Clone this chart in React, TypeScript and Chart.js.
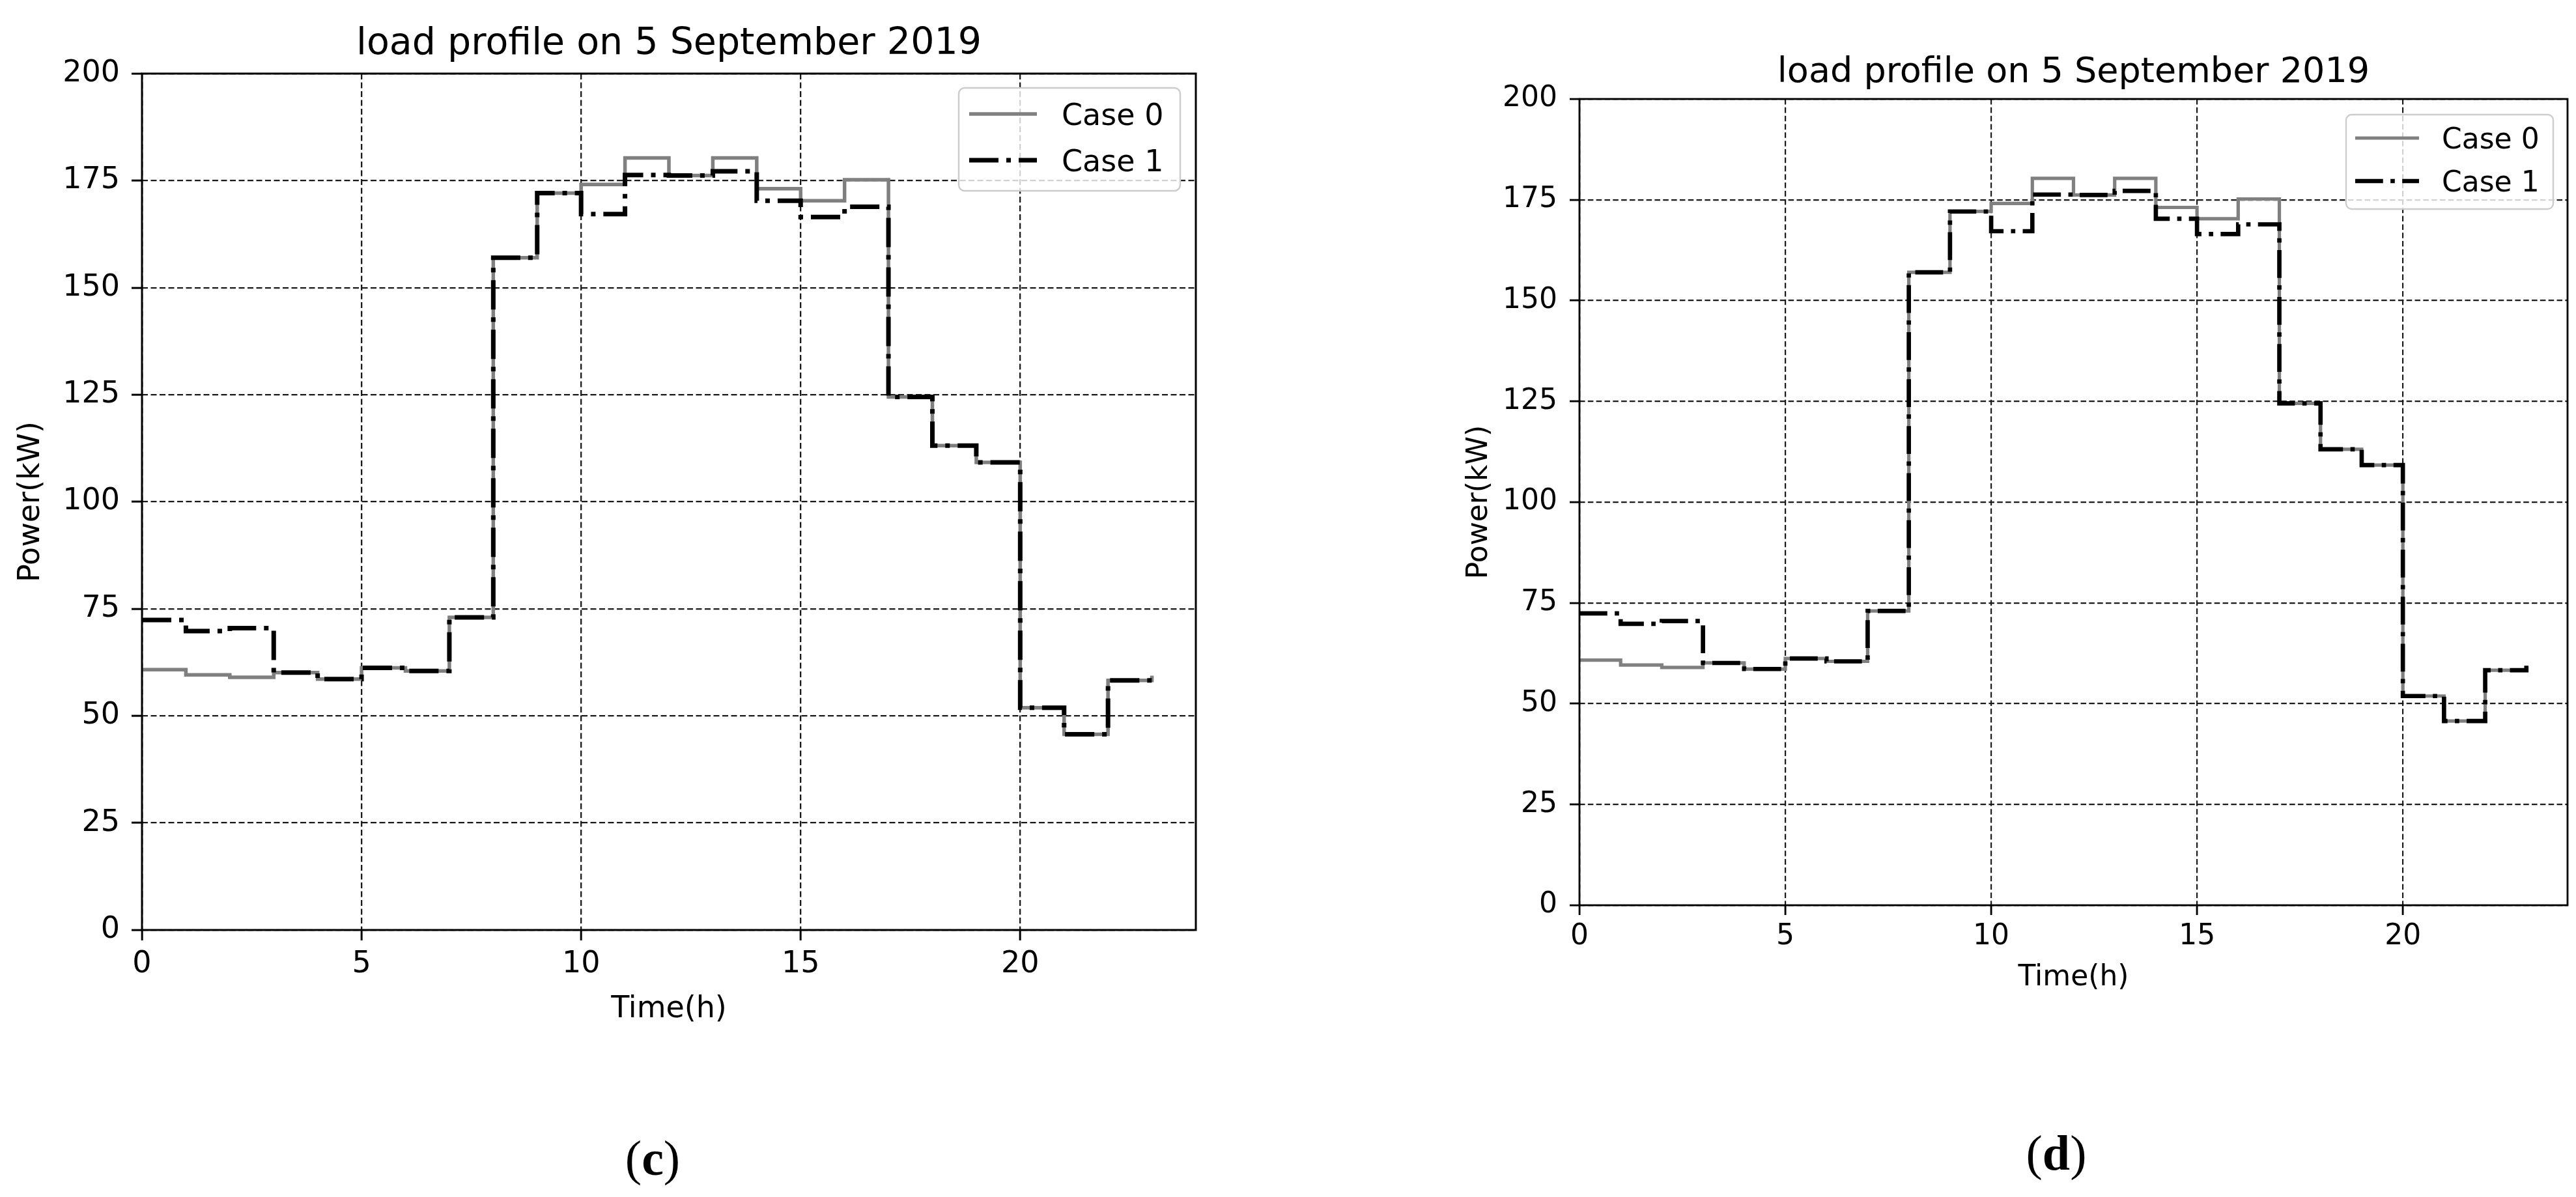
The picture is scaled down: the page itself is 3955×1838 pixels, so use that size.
import React, { useEffect, useRef } from "react";
import { Chart, registerables } from "chart.js";

Chart.register(...registerables);

// ---------------- data ----------------
const hours = [0, 1, 2, 3, 4, 5, 6, 7, 8, 9, 10, 11, 12, 13, 14, 15, 16, 17, 18, 19, 20, 21, 22, 23];
const case0 = [60.8, 59.6, 59.0, 60.1, 58.6, 61.2, 60.5, 73.0, 157.0, 172.1, 174.1, 180.3, 176.2, 180.3, 173.1, 170.3, 175.2, 124.5, 113.1, 109.2, 51.9, 45.7, 58.3, 59.4];
const case1 = [72.4, 69.8, 70.5, 60.1, 58.6, 61.2, 60.5, 73.0, 157.0, 172.1, 167.2, 176.3, 176.2, 177.2, 170.3, 166.5, 168.9, 124.5, 113.1, 109.2, 51.9, 45.7, 58.3, 59.4];
const xTickValues = [0, 5, 10, 15, 20];
const yTickValues = [0, 25, 50, 75, 100, 125, 150, 175, 200];
const seriesLabels = ["Case 0", "Case 1"];
const chartTitle = "load profile on 5 September 2019";
const xAxisTitle = "Time(h)";
const yAxisTitle = "Power(kW)";
const captionLetters = ["c", "d"];

const FONT = '"DejaVu Sans", "Liberation Sans", sans-serif';

type Geo = {
  pageLeft: number;
  pageTop: number;
  W: number;
  H: number;
  plotLeft: number;
  plotRight: number;
  plotTop: number;
  plotBottom: number;
  titleBaseline: number;
  titleSize: number;
  fontSize: number;
  tickLen: number;
  yTickPad: number;
  xTickPad: number;
  yTitleX: number;
  xTitleY: number;
  k: number;
  legend: {
    rightInset: number;
    topInset: number;
    w: number;
    h: number;
    sampleX: number;
    sampleLen: number;
    rowY: number[];
    textX: number;
  };
  caption: { cx: number; cy: number };
};

const geos: Geo[] = [
  {
    pageLeft: 0,
    pageTop: 0,
    W: 1900,
    H: 1600,
    plotLeft: 218,
    plotRight: 1836,
    plotTop: 113,
    plotBottom: 1428,
    titleBaseline: 83,
    titleSize: 57,
    fontSize: 46,
    tickLen: 16,
    yTickPad: 18,
    xTickPad: 9,
    yTitleX: 48,
    xTitleY: 1550,
    k: 1,
    legend: { rightInset: 24, topInset: 22, w: 340, h: 158, sampleX: 16, sampleLen: 104, rowY: [40, 111], textX: 158 },
    caption: { cx: 1002, cy: 1778 },
  },
  {
    pageLeft: 1960,
    pageTop: 0,
    W: 1995,
    H: 1560,
    plotLeft: 465,
    plotRight: 1982,
    plotTop: 152,
    plotBottom: 1390,
    titleBaseline: 126,
    titleSize: 54,
    fontSize: 44,
    tickLen: 15,
    yTickPad: 19,
    xTickPad: 7,
    yTitleX: 312,
    xTitleY: 1502,
    k: 0.95,
    legend: { rightInset: 22, topInset: 24, w: 318, h: 145, sampleX: 14, sampleLen: 98, rowY: [36, 102], textX: 147 },
    caption: { cx: 3157, cy: 1770 },
  },
];

function seriesStyles(k: number) {
  return [
    { color: "#808080", width: 5.5 * k, dash: [] as number[] },
    { color: "#000000", width: 7 * k, dash: [45 * k, 12 * k, 7 * k, 12 * k] },
  ];
}

function makeDecor(g: Geo) {
  const styles = seriesStyles(g.k);
  return {
    id: "decor",
    afterDatasetsDraw(chart: any) {
      const { ctx, chartArea: a } = chart;
      ctx.save();
      // frame
      ctx.setLineDash([]);
      ctx.strokeStyle = "#000";
      ctx.lineWidth = 3 * g.k;
      ctx.strokeRect(a.left, a.top, a.right - a.left, a.bottom - a.top);

      // legend
      const L = g.legend;
      const bx = a.right - L.rightInset - L.w;
      const by = a.top + L.topInset;
      const r = 9 * g.k;
      ctx.beginPath();
      ctx.moveTo(bx + r, by);
      ctx.lineTo(bx + L.w - r, by);
      ctx.arcTo(bx + L.w, by, bx + L.w, by + r, r);
      ctx.lineTo(bx + L.w, by + L.h - r);
      ctx.arcTo(bx + L.w, by + L.h, bx + L.w - r, by + L.h, r);
      ctx.lineTo(bx + r, by + L.h);
      ctx.arcTo(bx, by + L.h, bx, by + L.h - r, r);
      ctx.lineTo(bx, by + r);
      ctx.arcTo(bx, by, bx + r, by, r);
      ctx.closePath();
      ctx.fillStyle = "rgba(255,255,255,0.8)";
      ctx.fill();
      ctx.strokeStyle = "#cccccc";
      ctx.lineWidth = 2.5 * g.k;
      ctx.stroke();

      seriesLabels.forEach((label, i) => {
        const s = styles[i];
        const y = by + L.rowY[i];
        ctx.beginPath();
        ctx.setLineDash(s.dash);
        ctx.lineCap = "butt";
        ctx.strokeStyle = s.color;
        ctx.lineWidth = s.width;
        ctx.moveTo(bx + L.sampleX, y);
        ctx.lineTo(bx + L.sampleX + L.sampleLen, y);
        ctx.stroke();
        ctx.setLineDash([]);
        ctx.fillStyle = "#000";
        ctx.font = `${g.fontSize}px ${FONT}`;
        ctx.textAlign = "left";
        ctx.textBaseline = "alphabetic";
        ctx.fillText(label, bx + L.textX, y + 0.365 * g.fontSize);
      });

      // title
      ctx.fillStyle = "#000";
      ctx.font = `${g.titleSize}px ${FONT}`;
      ctx.textAlign = "center";
      ctx.textBaseline = "alphabetic";
      ctx.fillText(chartTitle, (a.left + a.right) / 2, g.titleBaseline);
      ctx.restore();
    },
  };
}

function LoadChart({ g }: { g: Geo }) {
  const ref = useRef<HTMLCanvasElement | null>(null);
  useEffect(() => {
    if (!ref.current) return;
    const styles = seriesStyles(g.k);
    const lh = g.fontSize * 1.2;
    const gridCommon = {
      display: true,
      drawOnChartArea: true,
      drawTicks: true,
      color: "#1a1a1a",
      lineWidth: 2.3 * g.k,
      tickLength: g.tickLen,
      tickColor: "#000000",
      tickWidth: 3 * g.k,
    };
    const border = { display: false, dash: [9 * g.k, 4.5 * g.k] };
    const chart = new Chart(ref.current, {
      type: "line",
      data: {
        datasets: [
          {
            label: seriesLabels[0],
            data: hours.map((h, i) => ({ x: h, y: case0[i] })),
            borderColor: styles[0].color,
            borderWidth: styles[0].width,
            borderDash: styles[0].dash,
            stepped: "before",
            pointRadius: 0,
            fill: false,
            order: 2,
            borderCapStyle: "butt",
          },
          {
            label: seriesLabels[1],
            data: hours.map((h, i) => ({ x: h, y: case1[i] })),
            borderColor: styles[1].color,
            borderWidth: styles[1].width,
            borderDash: styles[1].dash,
            stepped: "before",
            pointRadius: 0,
            fill: false,
            order: 1,
            borderCapStyle: "butt",
          },
        ],
      },
      options: {
        animation: false,
        responsive: false,
        maintainAspectRatio: false,
        devicePixelRatio: 1,
        events: [],
        layout: { padding: { left: 0, top: g.plotTop, right: g.W - g.plotRight, bottom: 0 } },
        plugins: {
          legend: { display: false },
          title: { display: false },
          tooltip: { enabled: false },
        },
        scales: {
          x: {
            type: "linear",
            min: 0,
            max: 24,
            afterBuildTicks: (scale: any) => {
              scale.ticks = xTickValues.map((v) => ({ value: v }));
            },
            afterFit: (scale: any) => {
              scale.height = g.H - g.plotBottom;
            },
            ticks: {
              autoSkip: false,
              maxRotation: 0,
              padding: g.xTickPad,
              color: "#000",
              font: { family: FONT, size: g.fontSize, lineHeight: 1.2 },
            },
            grid: gridCommon,
            border,
            title: {
              display: true,
              text: xAxisTitle,
              color: "#000",
              font: { family: FONT, size: g.fontSize, lineHeight: 1.2 },
              padding: { top: 0, bottom: g.H - g.xTitleY - lh / 2 },
            },
          },
          y: {
            type: "linear",
            min: 0,
            max: 200,
            afterBuildTicks: (scale: any) => {
              scale.ticks = yTickValues.map((v) => ({ value: v }));
            },
            afterFit: (scale: any) => {
              scale.width = g.plotLeft;
            },
            ticks: {
              autoSkip: false,
              padding: g.yTickPad,
              color: "#000",
              font: { family: FONT, size: g.fontSize, lineHeight: 1.2 },
            },
            grid: gridCommon,
            border,
            title: {
              display: true,
              text: yAxisTitle,
              color: "#000",
              font: { family: FONT, size: g.fontSize, lineHeight: 1.2 },
              padding: { top: g.yTitleX - lh / 2, bottom: 0 },
            },
          },
        },
      } as any,
      plugins: [makeDecor(g)],
    });
    return () => chart.destroy();
  }, [g]);
  return (
    <canvas
      ref={ref}
      width={g.W}
      height={g.H}
      style={{ position: "absolute", left: g.pageLeft, top: g.pageTop, width: g.W, height: g.H }}
    />
  );
}

export default function App() {
  return (
    <div
      style={{
        position: "absolute",
        left: 0,
        top: 0,
        width: 3955,
        height: 1838,
        background: "#ffffff",
        overflow: "hidden",
      }}
    >
      {geos.map((g, i) => (
        <LoadChart key={i} g={g} />
      ))}
      {geos.map((g, i) => (
        <div
          key={"cap" + i}
          style={{
            position: "absolute",
            left: g.caption.cx - 200,
            top: g.caption.cy - 40,
            width: 400,
            textAlign: "center",
            fontFamily: '"Liberation Serif", "DejaVu Serif", serif',
            fontSize: 76,
            lineHeight: "80px",
            color: "#000",
          }}
        >
          (<b>{captionLetters[i]}</b>)
        </div>
      ))}
    </div>
  );
}
